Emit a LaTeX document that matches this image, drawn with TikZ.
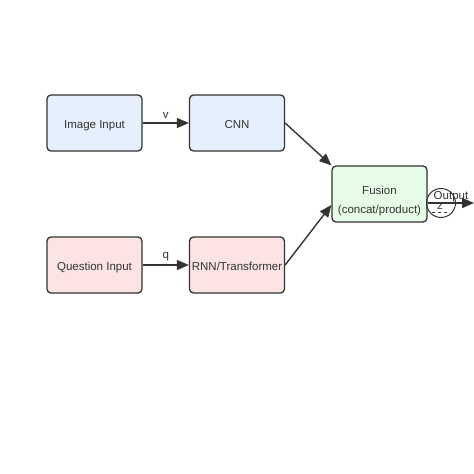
\documentclass[tikz,border=0pt]{standalone}
\usepackage{fontspec}
\setmainfont{Liberation Sans}
\usetikzlibrary{arrows.meta}
\definecolor{bluef}{HTML}{E6F0FC}
\definecolor{pinkf}{HTML}{FDE4E4}
\definecolor{greenf}{HTML}{E6FCE6}
\definecolor{edge}{HTML}{333333}
\begin{document}
\begin{tikzpicture}[x=1pt,y=-1pt,
  box/.style={draw=edge,line width=1.3pt,rounded corners=4pt,minimum width=95pt,minimum height=56pt,inner sep=0pt,font=\fontsize{11.5}{13}\selectfont,text=edge,align=center},
  conn/.style={draw=edge,line width=1.4pt,-{Triangle[length=12pt,width=10pt]}},
  lbl/.style={font=\fontsize{11.5}{13}\selectfont,text=edge}]
\useasboundingbox (0,0) rectangle (474,474);
\fill[white] (0,0) rectangle (474,474);
\node[box,fill=bluef] (img) at (94.5,123) {\raisebox{-5pt}[0pt][0pt]{Image Input}};
\node[box,fill=bluef] (cnn) at (237,123) {\raisebox{-5pt}[0pt][0pt]{CNN}};
\node[box,fill=pinkf] (qin) at (94.5,265) {\raisebox{-5pt}[0pt][0pt]{Question Input}};
\node[box,fill=pinkf] (rnn) at (237,265) {\raisebox{-5pt}[0pt][0pt]{RNN/Transformer}};
\node[box,fill=greenf] (fus) at (379.5,194) {\raisebox{-10pt}[0pt][0pt]{\begin{tabular}{@{}c@{}}Fusion\\[6pt](concat/product)\end{tabular}}};
\node[circle,draw=edge,line width=1pt,minimum size=29pt,inner sep=0pt] (out) at (441,203) {};
\coordinate (end) at (474,203);
\draw[conn] (img.east) -- (cnn.west) node[lbl,midway,above=0pt] {v};
\draw[conn] (qin.east) -- (rnn.west) node[lbl,midway,above=0pt] {q};
\draw[conn] (cnn.east) -- (fus.north west);
\draw[conn] (rnn.east) -- (fus.west |- 0,205);
\draw[conn] (fus.east |- out) -- (end);
\node[lbl] (zl) at (440,206) {z};
\draw[edge,dashed,line width=1pt] (432,212) -- (450,212);
\node[lbl] (outl) at (451,197) {Output};
\end{tikzpicture}
\end{document}
